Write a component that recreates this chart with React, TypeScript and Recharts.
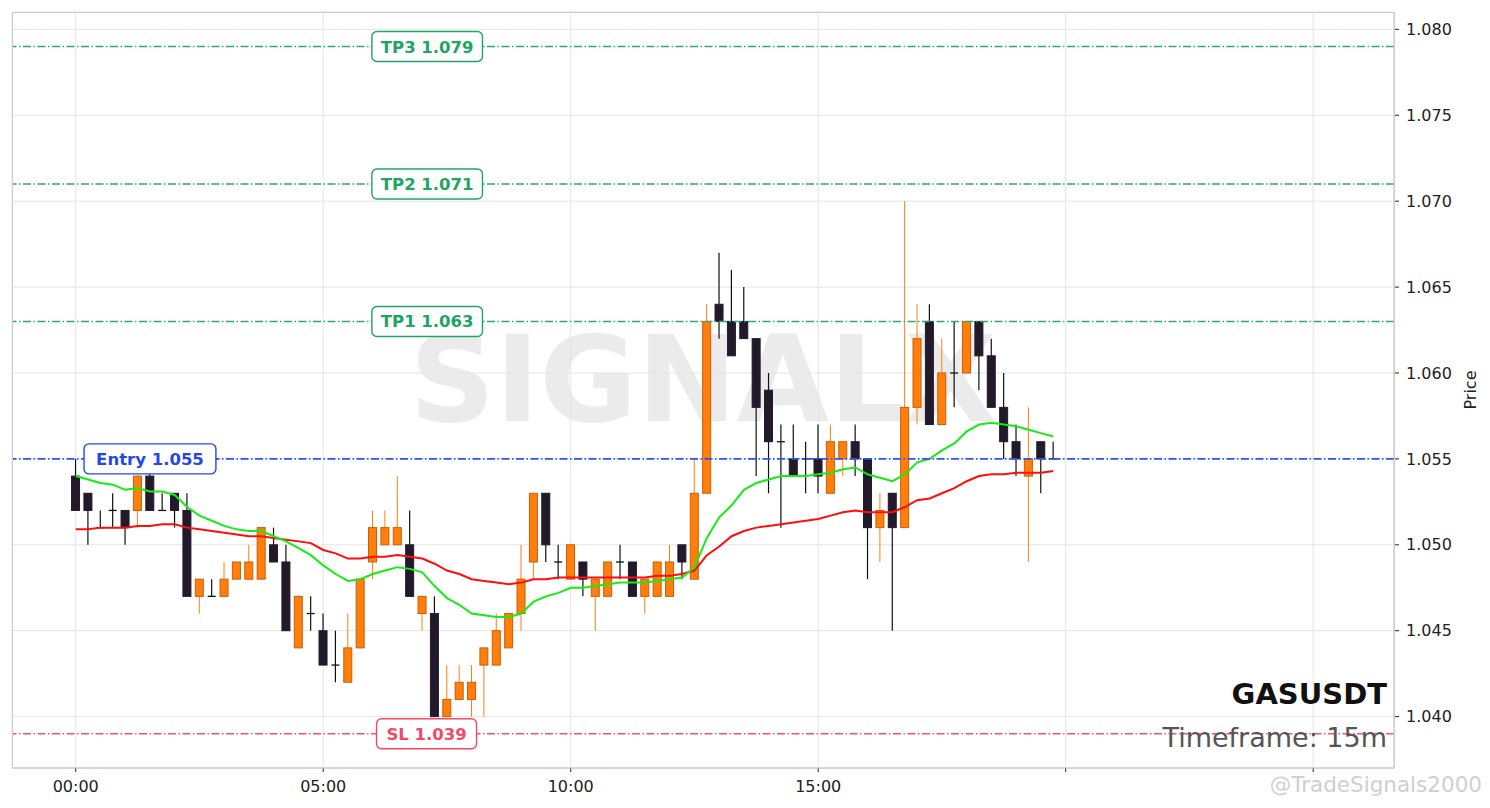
import React from "react"
import {
  ComposedChart,
  Bar,
  Line,
  XAxis,
  YAxis,
  CartesianGrid,
  ReferenceLine,
  ReferenceDot,
} from "recharts"

// 15m candles, 00:00 -> 19:45
const opens = [
  1.054, 1.053, 1.051, 1.052, 1.052, 1.052, 1.054, 1.052, 1.053, 1.052,
  1.047, 1.047, 1.047, 1.048, 1.048, 1.048, 1.05, 1.049, 1.044, 1.046,
  1.045, 1.043, 1.042, 1.044, 1.049, 1.05, 1.05, 1.05, 1.046, 1.046,
  1.04, 1.041, 1.041, 1.043, 1.043, 1.044, 1.046, 1.049, 1.053, 1.049,
  1.048, 1.049, 1.047, 1.047, 1.049, 1.049, 1.047, 1.047, 1.047, 1.05,
  1.048, 1.053, 1.064, 1.063, 1.063, 1.062, 1.059, 1.056, 1.055, 1.055,
  1.055, 1.053, 1.055, 1.056, 1.055, 1.051, 1.053, 1.051, 1.058, 1.063,
  1.057, 1.06, 1.06, 1.063, 1.061, 1.058, 1.056, 1.054, 1.056, 1.055,
]
const highs = [
  1.055, 1.053, 1.052, 1.053, 1.052, 1.054, 1.055, 1.053, 1.053, 1.053,
  1.048, 1.048, 1.049, 1.049, 1.05, 1.051, 1.051, 1.05, 1.047, 1.047,
  1.046, 1.045, 1.046, 1.048, 1.052, 1.052, 1.054, 1.052, 1.047, 1.047,
  1.043, 1.043, 1.043, 1.044, 1.046, 1.046, 1.05, 1.053, 1.053, 1.05,
  1.05, 1.049, 1.048, 1.049, 1.05, 1.049, 1.048, 1.049, 1.05, 1.05,
  1.055, 1.064, 1.067, 1.066, 1.065, 1.062, 1.06, 1.057, 1.057, 1.056,
  1.057, 1.057, 1.056, 1.057, 1.055, 1.053, 1.053, 1.07, 1.064, 1.064,
  1.062, 1.063, 1.063, 1.063, 1.062, 1.06, 1.057, 1.058, 1.056, 1.056,
]
const lows = [
  1.052, 1.05, 1.051, 1.051, 1.05, 1.051, 1.052, 1.052, 1.051, 1.047,
  1.046, 1.047, 1.047, 1.048, 1.048, 1.048, 1.049, 1.045, 1.044, 1.045,
  1.043, 1.042, 1.042, 1.044, 1.048, 1.05, 1.05, 1.047, 1.045, 1.04,
  1.04, 1.041, 1.04, 1.04, 1.043, 1.044, 1.045, 1.048, 1.049, 1.048,
  1.048, 1.047, 1.045, 1.047, 1.048, 1.047, 1.046, 1.047, 1.047, 1.048,
  1.048, 1.053, 1.062, 1.061, 1.062, 1.054, 1.053, 1.051, 1.054, 1.053,
  1.053, 1.053, 1.054, 1.054, 1.048, 1.049, 1.045, 1.051, 1.057, 1.057,
  1.057, 1.058, 1.06, 1.059, 1.058, 1.055, 1.054, 1.049, 1.053, 1.055,
]
const closes = [
  1.052, 1.052, 1.051, 1.052, 1.051, 1.054, 1.052, 1.052, 1.052, 1.047,
  1.048, 1.047, 1.048, 1.049, 1.049, 1.051, 1.049, 1.045, 1.047, 1.046,
  1.043, 1.043, 1.044, 1.048, 1.051, 1.051, 1.051, 1.047, 1.047, 1.04,
  1.041, 1.042, 1.042, 1.044, 1.045, 1.046, 1.048, 1.053, 1.05, 1.049,
  1.05, 1.048, 1.048, 1.049, 1.049, 1.047, 1.048, 1.049, 1.049, 1.049,
  1.053, 1.063, 1.063, 1.061, 1.062, 1.058, 1.056, 1.056, 1.054, 1.055,
  1.054, 1.056, 1.056, 1.055, 1.051, 1.052, 1.051, 1.058, 1.062, 1.057,
  1.06, 1.06, 1.063, 1.061, 1.058, 1.056, 1.055, 1.055, 1.055, 1.055,
]
// moving averages
const fastMa = [
  1.054, 1.0538, 1.0536, 1.0535, 1.0532, 1.0533, 1.0531, 1.0531, 1.0529, 1.0522,
  1.0517, 1.0514, 1.0511, 1.0509, 1.0508, 1.0508, 1.0505, 1.0502, 1.0498, 1.0494,
  1.0488, 1.0483, 1.0479, 1.048, 1.0483, 1.0485, 1.0487, 1.0486, 1.0484, 1.0476,
  1.0469, 1.0465, 1.046, 1.0459, 1.0458, 1.0458, 1.046, 1.0467, 1.047, 1.0472,
  1.0475, 1.0475, 1.0476, 1.0477, 1.0478, 1.0478, 1.0478, 1.0479, 1.048, 1.0481,
  1.0487, 1.0504, 1.0516, 1.0523, 1.0532, 1.0536, 1.0538, 1.054, 1.054, 1.054,
  1.0541, 1.0542, 1.0544, 1.0545, 1.0541, 1.0539, 1.0537, 1.0541, 1.0548, 1.055,
  1.0555, 1.0559, 1.0566, 1.057, 1.0571, 1.057, 1.0569, 1.0567, 1.0565, 1.0563,
]
const slowMa = [
  1.0509, 1.0509, 1.051, 1.051, 1.051, 1.0511, 1.0511, 1.0512, 1.0512, 1.051,
  1.0509, 1.0508, 1.0507, 1.0506, 1.0505, 1.0505, 1.0504, 1.0503, 1.0502, 1.0501,
  1.0497, 1.0495, 1.0492, 1.0492, 1.0493, 1.0493, 1.0494, 1.0493, 1.0492, 1.0489,
  1.0485, 1.0483, 1.048, 1.0479, 1.0478, 1.0477, 1.0478, 1.048, 1.048, 1.0481,
  1.0481, 1.0481, 1.0481, 1.0481, 1.0481, 1.0481, 1.0481, 1.0482, 1.0482, 1.0483,
  1.0485, 1.0494, 1.0499, 1.0505, 1.0508, 1.051, 1.0511, 1.0512, 1.0513, 1.0514,
  1.0515, 1.0517, 1.0519, 1.052, 1.0519, 1.0519, 1.0519, 1.0522, 1.0526, 1.0527,
  1.053, 1.0533, 1.0537, 1.054, 1.0541, 1.0541, 1.0542, 1.0542, 1.0542, 1.0543,
]

const xTicks = [0, 20, 40, 60, 80, 100]
const xTickLabels = ["00:00", "05:00", "10:00", "15:00", "", ""]
const yTicks = [1.04, 1.045, 1.05, 1.055, 1.06, 1.065, 1.07, 1.075, 1.08]

const levelNames = ["TP3", "TP2", "TP1", "Entry", "SL"]
const levelPrices = [1.079, 1.071, 1.063, 1.055, 1.039]
const levelLabelX = [28.4, 28.4, 28.4, 6.0, 28.35]

const FONT = "DejaVu Sans"
const GREEN = "#22a463"
const BLUE = "#2547ea"
const RED = "#f04a64"
const LEVEL_COLORS = [GREEN, GREEN, GREEN, BLUE, RED]
const LINE_COLORS = ["#2fa96d", "#2fa96d", "#2fa96d", "#3253ee", "#f2566c"]

const data = opens.map((o, i) => ({
  i,
  open: o,
  high: highs[i],
  low: lows[i],
  close: closes[i],
  fast: fastMa[i],
  slow: slowMa[i],
}))

function Candle(props: any) {
  const { x, y, width, height, payload } = props
  const { open, close, high, low } = payload
  const top = Math.min(y, y + height)
  const h = Math.abs(height)
  const range = high - low
  const toY = (p: number) => (range === 0 ? top : top + ((high - p) / range) * h)
  const up = close > open
  const cx = x + width / 2
  const bTop = toY(Math.max(open, close))
  const bBot = toY(Math.min(open, close))
  const wick = up ? "#ff7f0e" : "#111111"
  if (open === close) {
    return (
      <g>
        <line x1={cx} x2={cx} y1={top} y2={top + h} stroke={wick} strokeWidth={1.2} />
        <line x1={cx - 4} x2={cx + 4} y1={bTop} y2={bTop} stroke="#111111" strokeWidth={1.3} />
      </g>
    )
  }
  return (
    <g>
      <line x1={cx} x2={cx} y1={top} y2={top + h} stroke={wick} strokeWidth={up ? 1 : 1.2} />
      <rect
        x={cx - 4}
        y={bTop}
        width={8}
        height={Math.max(bBot - bTop, 1)}
        fill={up ? "#ff7f0e" : "#221a2a"}
        stroke={up ? "#cf5c00" : "#221a2a"}
        strokeWidth={1}
      />
    </g>
  )
}

function PriceTag(props: any) {
  const { cx, cy, text, color } = props
  const w = text.length * 0.625 * 17 + 15
  return (
    <g>
      <rect x={cx - w / 2} y={cy - 15} width={w} height={30} rx={5} fill="#fff" stroke={color} strokeWidth={1.4} />
      <text
        x={cx}
        y={cy + 6}
        textAnchor="middle"
        fontFamily={FONT}
        fontWeight="bold"
        fontSize={16.5}
        fill={color}
      >
        {text}
      </text>
    </g>
  )
}

export default function App() {
  return (
    <div style={{ position: "absolute", left: 0, top: 0, width: 1490, height: 808, background: "#fff" }}>
      <svg width={1490} height={808} style={{ position: "absolute", left: 0, top: 0 }}>
        <text
          x={703}
          y={421}
          textAnchor="middle"
          fontFamily={FONT}
          fontWeight="bold"
          fontSize={119}
          fill="#ebebeb"
        >
          SIGNALX
        </text>
      </svg>
      <div style={{ position: "absolute", left: 0, top: 0 }}>
        <ComposedChart
          width={1490}
          height={808}
          data={data}
          margin={{ top: 12, right: 0, bottom: 0, left: 12 }}
        >
          <CartesianGrid stroke="#e4e4e4" strokeWidth={1} />
          <XAxis
            dataKey="i"
            type="number"
            domain={[-5.15, 106.53]}
            allowDataOverflow
            ticks={xTicks}
            tickFormatter={(v: number) => xTickLabels[xTicks.indexOf(v)] ?? ""}
            height={40}
            tickSize={4}
            tickMargin={9}
            axisLine={{ stroke: "#cccccc" }}
            tickLine={{ stroke: "#222" }}
            tick={{ fill: "#222", fontFamily: FONT, fontSize: 16 }}
          />
          <YAxis
            orientation="right"
            type="number"
            domain={[1.03701, 1.08101]}
            allowDataOverflow
            ticks={yTicks}
            tickFormatter={(v: number) => v.toFixed(3)}
            width={96}
            tickSize={5}
            tickMargin={7}
            axisLine={{ stroke: "#cccccc" }}
            tickLine={{ stroke: "#222" }}
            tick={{ fill: "#222", fontFamily: FONT, fontSize: 16, textAnchor: "start" }}
          />
          <Bar
            dataKey={(d: any) => [d.low, d.high]}
            barSize={8}
            shape={<Candle />}
            isAnimationActive={false}
          />
          <Line
            dataKey="slow"
            stroke="#ff0d0d"
            strokeWidth={2}
            dot={false}
            isAnimationActive={false}
          />
          <Line
            dataKey="fast"
            stroke="#16ec16"
            strokeWidth={2}
            dot={false}
            isAnimationActive={false}
          />
          {levelPrices.map((p, k) => (
            <ReferenceLine
              key={`line-${k}`}
              y={p}
              stroke={LINE_COLORS[k]}
              strokeWidth={1.6}
              strokeDasharray="8 2.5 1.5 2.5"
            />
          ))}
          {levelPrices.map((p, k) => (
            <ReferenceDot
              key={`tag-${k}`}
              x={levelLabelX[k]}
              y={p}
              r={0}
              shape={(sp: any) => (
                <PriceTag {...sp} text={`${levelNames[k]} ${p.toFixed(3)}`} color={LEVEL_COLORS[k]} />
              )}
            />
          ))}
        </ComposedChart>
      </div>
      <svg
        width={1490}
        height={808}
        style={{ position: "absolute", left: 0, top: 0, pointerEvents: "none" }}
      >
        <rect x={12.5} y={12.5} width={1382} height={755.5} fill="none" stroke="#cccccc" strokeWidth={1} />
        <text x={1387} y={704} textAnchor="end" fontFamily={FONT} fontWeight="bold" fontSize={29} fill="#111">
          GASUSDT
        </text>
        <text x={1387} y={747} textAnchor="end" fontFamily={FONT} fontSize={27} fill="#555">
          Timeframe: 15m
        </text>
        <text
          x={1476}
          y={390}
          textAnchor="middle"
          transform="rotate(-90 1476 390)"
          fontFamily={FONT}
          fontSize={16}
          fill="#222"
        >
          Price
        </text>
        <text x={1482} y={792} textAnchor="end" fontFamily={FONT} fontSize={21.5} fill="#cfcfcf">
          @TradeSignals2000
        </text>
      </svg>
    </div>
  )
}
